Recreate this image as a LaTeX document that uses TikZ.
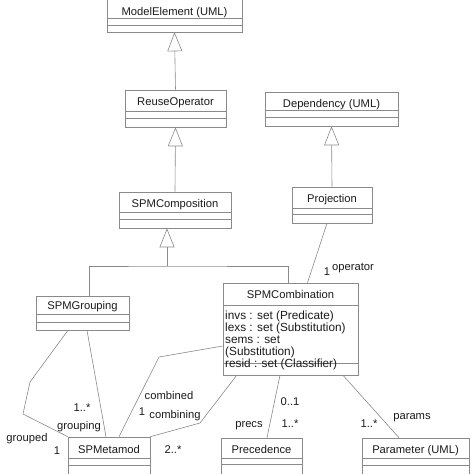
\documentclass[tikz,border=0pt]{standalone}
\usepackage{fontspec}
\setmainfont{Liberation Sans}
\usetikzlibrary{arrows.meta,calc}
\definecolor{linegray}{HTML}{8A8A8A}
\definecolor{txt}{HTML}{1A1A1A}
\tikzset{
  cls/.style={draw=linegray, line width=0.6pt, inner sep=0pt},
  sep/.style={draw=linegray, line width=0.6pt},
  conn/.style={draw=linegray, line width=0.6pt},
  gen/.style={conn, -{Triangle[open, length=19pt, width=15pt]}},
  ttl/.style={font=\fontsize{11.2}{13}\selectfont, text=txt, inner sep=0pt, text height=8pt, text depth=0pt},
  lbl/.style={font=\fontsize{11.2}{13}\selectfont, text=txt, inner sep=0pt, text height=8pt, text depth=0pt},
}
% name, x1, y1, x2, y2, line1, line2, title y, title
\newcommand{\umlcls}[9]{%
  \node[cls, minimum width={(#4-(#2))*1pt}, minimum height={(#5-(#3))*1pt}] (#1) at ({(#2+#4)/2},{(#3+#5)/2}) {};
  \draw[sep] ({#2},{#6}) -- ({#4},{#6});
  \draw[sep] ({#2},{#7}) -- ({#4},{#7});
  \node[ttl] (#1t) at ({(#2+#4)/2},{#8}) {#9};
}
\begin{document}
\begin{tikzpicture}[x=1pt, y=-1pt]
\useasboundingbox (0,0) rectangle (474,474);
\umlcls{me}{107}{-4}{242}{32}{18}{25}{11}{ModelElement (UML)}
\umlcls{reuse}{125}{90}{226}{127}{111}{118}{101}{ReuseOperator}
\umlcls{dep}{265}{92}{398}{126}{110}{117}{103}{Dependency (UML)}
\umlcls{comp}{119}{192}{231}{228}{212}{219}{203}{SPMComposition}
\umlcls{proj}{292}{187}{372}{223}{208}{214}{198}{Projection}
\umlcls{grp}{36}{296}{129}{330}{314}{322}{305}{SPMGrouping}
\umlcls{comb}{223}{283}{358}{375}{305}{363}{294}{SPMCombination}
\umlcls{meta}{68}{437}{150}{482}{458}{465}{449}{SPMetamod}
\umlcls{prec}{221}{438}{302}{482}{458}{464}{449}{Precedence}
\umlcls{param}{362}{438}{469}{482}{458}{465}{449}{Parameter (UML)}

\node[anchor=north west, align=left, font=\fontsize{11.8}{12}\selectfont, text=txt, inner sep=0pt] (attrs) at (225,311)
  {invs : set (Predicate)\\lexs : set (Substitution)\\sems : set\\(Substitution)\\resid : set (Classifier)};

% generalizations
\draw[gen] (reuse.north) -- (me.south);
\draw[gen] (comp.north) -- (reuse.south);
\draw[gen] (proj.north) -- (dep.south);
\coordinate (gj) at (167,266);
\draw[gen] (gj) -- (gj |- comp.south);
\draw[conn] ($(grp.north)+(6.5,0)$) |- (gj) -| ($(comb.north)+(-2.5,0)$);

% associations
\draw[conn] ($(proj.south)+(-5,0)$) -- ($(comb.north)+(17,0)$);
\coordinate (gb1) at (30,382);
\coordinate (gb2) at (23,414);
\draw[conn] ($(grp.south)+(-14.5,0)$) -- (gb1) -- (gb2) -- (meta.north west);
\draw[conn] ($(grp.south)+(4.5,0)$) -- ($(meta.north)+(-3,0)$);
\coordinate (cb1) at (159,357);
\draw[conn] ($(comb.west)+(0,17)$) -- (cb1) -- ($(meta.north)+(10,0)$);
\coordinate (cb2) at (200,423);
\draw[conn] (meta.north east) -- (cb2) -- ($(comb.south west)+(14,0)$);
\draw[conn] ($(comb.south)+(-10.5,0)$) -- ($(prec.north)+(5.5,0)$);
\draw[conn] ($(comb.south)+(52.5,0)$) -- ($(param.north)+(-16.5,0)$);

% labels
\node[lbl] (l1) at (327,271) {1};
\node[lbl] (l2) at (353,266) {operator};
\node[lbl] (l3) at (169,395) {combined};
\node[lbl] (l4) at (142,411) {1};
\node[lbl] (l5) at (175,414) {combining};
\node[lbl] (l6) at (82,407) {1..*};
\node[lbl] (l7) at (79,425) {grouping};
\node[lbl] (l8) at (27,437) {grouped};
\node[lbl] (l9) at (57,450) {1};
\node[lbl] (l10) at (173,449) {2..*};
\node[lbl] (l11) at (290,401) {0..1};
\node[lbl] (l12) at (290,423) {1..*};
\node[lbl] (l13) at (249,423) {precs};
\node[lbl] (l14) at (369,423) {1..*};
\node[lbl] (l15) at (412,415) {params};
\end{tikzpicture}
\end{document}
